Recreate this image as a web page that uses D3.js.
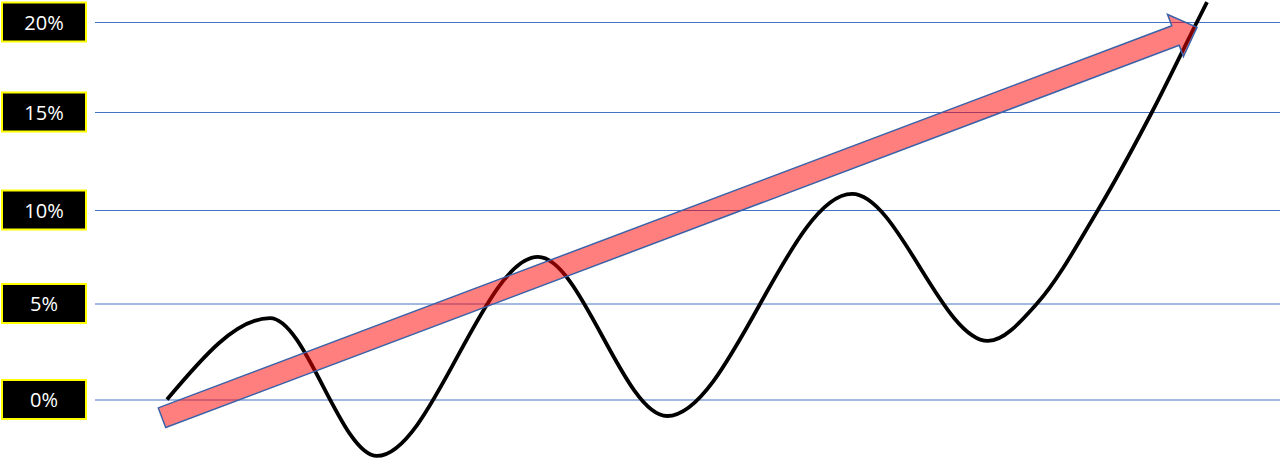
<!DOCTYPE html>
<html>
<head>
<meta charset="utf-8">
<script src="https://cdn.jsdelivr.net/npm/d3@7/dist/d3.min.js"></script>
<style>
  html, body { margin: 0; padding: 0; background: #ffffff; }
  svg { display: block; }
</style>
</head>
<body>
<div id="chart"></div>
<script>
// ---- data ----
const yTicks = [0, 5, 10, 15, 20];
const tickLabels = ["0%", "5%", "10%", "15%", "20%"];
// curve sample positions (time units) and values (%): turning points + final rise
const seriesX = [0, 10.3, 21.0, 37.1, 50.0, 68.5, 82.1, 87, 93.1, 98.5, 103, 104];
const seriesY = [0, 4.24, -2.94, 7.49, -0.86, 10.82, 3.05, 5, 10, 15, 20, 21.1];
// trend arrow (start and end, same units)
const trendX = [-0.5, 103];
const trendY = [-0.95, 19.7];

// ---- layout ----
const W = 1280, H = 461;
const svg = d3.select("#chart").append("svg").attr("width", W).attr("height", H);

const x = d3.scaleLinear().domain([0, 104]).range([167, 1207]);
const y = d3.scaleLinear().domain(yTicks).range([399.5, 303.5, 210, 112, 22]);

// gridlines via axis
const grid = svg.append("g").attr("transform", "translate(95,0)")
  .call(d3.axisRight(y).tickValues(yTicks).tickSize(W - 95).tickFormat(""));
grid.select(".domain").remove();
grid.selectAll(".tick line").attr("stroke", "#4472C4").attr("stroke-width", 1);

// label boxes
const lab = svg.append("g").selectAll("g").data(yTicks).join("g")
  .attr("transform", d => `translate(0,${y(d)})`);
lab.append("rect")
  .attr("x", 2).attr("y", -19.5).attr("width", 84).attr("height", 39)
  .attr("fill", "#000").attr("stroke", "#FFFF00").attr("stroke-width", 2);
lab.append("text")
  .attr("x", 44).attr("y", 7.5)
  .attr("text-anchor", "middle")
  .attr("fill", "#fff")
  .style("font-family", "'Open Sans', 'Noto Sans', sans-serif")
  .style("font-size", "20px")
  .text((d, i) => tickLabels[i]);

// curve
const pts = seriesX.map((v, i) => [v, seriesY[i]]);
const line = d3.line().x(d => x(d[0])).y(d => y(d[1])).curve(d3.curveMonotoneX);
svg.append("path").attr("d", line(pts))
  .attr("fill", "none").attr("stroke", "#000").attr("stroke-width", 3.8)
  .attr("stroke-linejoin", "round");

// trend arrow (semi-transparent red)
const x0 = x(trendX[0]), y0 = y(trendY[0]);
const x1 = x(trendX[1]), y1 = y(trendY[1]);
const len = Math.hypot(x1 - x0, y1 - y0);
const ang = Math.atan2(y1 - y0, x1 - x0) * 180 / Math.PI;
const hw = 10.5, headW = 22.5, headL = 23;
const poly = [
  [0, -hw], [len - headL, -hw], [len - headL, -headW], [len, 0],
  [len - headL, headW], [len - headL, hw], [0, hw]
];
svg.append("polygon")
  .attr("transform", `translate(${x0},${y0}) rotate(${ang})`)
  .attr("points", poly.map(p => p.join(",")).join(" "))
  .attr("fill", "rgba(255,0,0,0.5)")
  .attr("stroke", "#3A62A8").attr("stroke-width", 1.5)
  .attr("stroke-linejoin", "miter");
</script>
</body>
</html>
